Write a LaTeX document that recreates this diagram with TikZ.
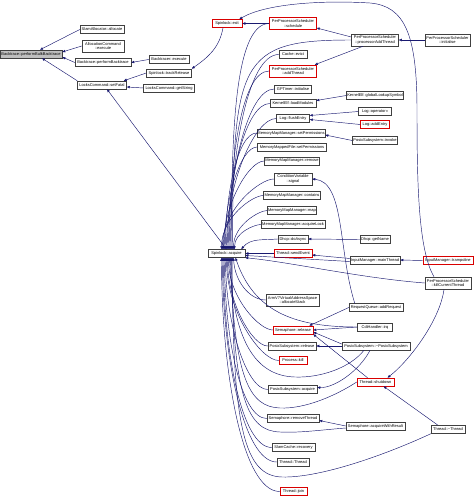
\documentclass[tikz,border=0pt]{standalone}
\usepackage{fontspec}
\setmainfont{Liberation Sans}
\usetikzlibrary{arrows.meta}
\definecolor{edgeblue}{HTML}{191970}
\definecolor{rootgray}{HTML}{BFBFBF}
\begin{document}
\begin{tikzpicture}[x=1bp,y=-1bp,
  box/.style={draw=black!75, line width=0.5bp, rectangle, inner sep=0.5bp, minimum height=8bp,
    font=\fontsize{4}{4.6}\selectfont, align=center, fill=white},
  box2/.style={box, minimum height=12bp},
  redbox/.style={draw=red!85!black},
  rootbox/.style={fill=rootgray},
  edge/.style={draw=edgeblue, line width=0.45bp, -{Triangle[length=3bp,width=2.4bp]}},
  upc/.style={edge, out=180, in=90, out looseness=0.4, in looseness=1.2},
  downc/.style={edge, out=180, in=-90, out looseness=0.4, in looseness=1.2},
]
\useasboundingbox (0,0) rectangle (474,497);

% ---- nodes ----
\node[box,rootbox,minimum width=62bp] (pbb) at (31,54) {Backtrace::performBulkBacktrace};
\node[box,minimum width=44bp] (slamalloc) at (102,29.5) {SlamAllocator::allocate};
\node[box2,minimum width=42bp] (alloccmd) at (103,46) {AllocationCommand\\::execute};
\node[box,minimum width=56bp] (perfbt) at (103,62.5) {Backtrace::performBacktrace};
\node[box,minimum width=49bp] (setfatal) at (102,85) {LocksCommand::setFatal};
\node[box,minimum width=40bp] (btexec) at (169,59.5) {Backtracer::execute};
\node[box,minimum width=45bp] (trackrel) at (169,73) {Spinlock::trackRelease};
\node[box,minimum width=51bp] (getstring) at (169,88) {LocksCommand::getString};
\node[box,redbox,minimum width=30bp] (exit) at (227,23.5) {Spinlock::exit};
\node[box,minimum width=37bp] (spin) at (226.5,253.5) {Spinlock::acquire};

\node[box2,redbox,minimum width=47bp] (schedule) at (293,23.5) {PerProcessorScheduler\\::schedule};
\node[box2,minimum width=47bp] (pat) at (375,40) {PerProcessorScheduler\\::processorAddThread};
\node[box2,minimum width=45bp] (init) at (447.5,40) {PerProcessorScheduler\\::initialise};
\node[box,minimum width=28bp] (cacheevict) at (293,54.5) {Cache::evict};
\node[box2,redbox,minimum width=47bp] (addthread) at (293,71) {PerProcessorScheduler\\::addThread};
\node[box,minimum width=37bp] (gptimer) at (293,89) {GPTimer::initialise};
\node[box,minimum width=46bp] (loadmod) at (293,103.5) {KernelElf::loadModules};
\node[box,minimum width=57bp] (globlookup) at (375,95.5) {KernelElf::globalLookupSymbol};
\node[box,minimum width=33bp] (flushentry) at (293,118.5) {Log::flushEntry};
\node[box,minimum width=33bp] (logop) at (375,111.5) {Log::operator\textless\textless};
\node[box,redbox,minimum width=29bp] (addentry) at (375,124.5) {Log::addEntry};
\node[box,minimum width=66bp] (mmmsetperm) at (291,133) {MemoryMapManager::setPermissions};
\node[box,minimum width=45bp] (psinvoke) at (375,140.5) {PosixSubsystem::invoke};
\node[box,minimum width=69bp] (mmfsetperm) at (292,147) {MemoryMappedFile::setPermissions};
\node[box,minimum width=55bp] (mmmremove) at (292,161) {MemoryMapManager::remove};
\node[box2,minimum width=38bp] (cvsignal) at (293,179) {ConditionVariable\\::signal};
\node[box,minimum width=57bp] (mmmcontains) at (292,195.5) {MemoryMapManager::contains};
\node[box,minimum width=49bp] (mmmmap) at (292,210.5) {MemoryMapManager::map};
\node[box,minimum width=64bp] (mmmlock) at (293,224.5) {MemoryMapManager::acquireLock};
\node[box,minimum width=30bp] (dhcpasync) at (293,239) {Dhcp::doAsync};
\node[box,minimum width=30bp] (dhcpname) at (375,239.5) {Dhcp::getName};
\node[box,redbox,minimum width=38bp] (sendevent) at (293,253.5) {Thread::sendEvent};
\node[box,minimum width=50bp] (immain) at (375,260) {InputManager::mainThread};
\node[box,redbox,minimum width=50bp] (imtramp) at (448,260.5) {InputManager::trampoline};
\node[box2,minimum width=46bp] (kct) at (448,283) {PerProcessorScheduler\\::killCurrentThread};
\node[box2,minimum width=53bp] (armv7) at (292.5,300) {ArmV7VirtualAddressSpace\\::allocateStack};
\node[box,minimum width=54bp] (rq) at (376,307.5) {RequestQueue::addRequest};
\node[box,minimum width=35bp] (cdiirq) at (375,327) {CdiHandler::irq};
\node[box,redbox,minimum width=40bp] (semrel) at (293,330) {Semaphore::release};
\node[box,minimum width=48bp] (psrelease) at (292,346) {PosixSubsystem::release};
\node[box,minimum width=68bp] (psdtor) at (376,346) {PosixSubsystem::\textasciitilde PosixSubsystem};
\node[box,redbox,minimum width=28bp] (prockill) at (293,360.5) {Process::kill};
\node[box,redbox,minimum width=37bp] (shutdown) at (375.5,382) {Thread::shutdown};
\node[box,minimum width=49bp] (psacquire) at (292.5,389.5) {PosixSubsystem::acquire};
\node[box,minimum width=52bp] (semremove) at (293,418.5) {Semaphore::removeThread};
\node[box,minimum width=59bp] (semacqres) at (375.5,426) {Semaphore::acquireWithResult};
\node[box,minimum width=34bp] (tdtor) at (448,429.5) {Thread::\textasciitilde Thread};
\node[box,minimum width=43bp] (slamrec) at (293.5,447.5) {SlamCache::recovery};
\node[box,minimum width=32bp] (tctor) at (293,462) {Thread::Thread};
\node[box,redbox,minimum width=27bp] (tjoin) at (293.5,491.5) {Thread::join};

% ---- left part ----
\draw[edge] (slamalloc.west) -- ([xshift=9bp]pbb.north);
\draw[edge] (alloccmd.west) -- ([yshift=2bp]pbb.east);
\draw[edge] (perfbt.west) -- ([yshift=-3bp]pbb.east);
\draw[edge] (setfatal.north west) -- ([xshift=11bp]pbb.south);
\draw[edge] (btexec.west) -- (perfbt.east);
\draw[edge] (trackrel.west) -- ([xshift=-3bp]setfatal.north east);
\draw[edge] (getstring.west) -- ([yshift=-2bp]setfatal.east);
\draw[edge] (spin.north) -- ([xshift=5bp]setfatal.south);
\draw[edge] ([xshift=-4bp]exit.south) to[out=-100,in=35] (trackrel.north east);

% ---- top ----
\draw[edge] (schedule.west) -- (exit.east);
\draw[edge] ([yshift=3bp]pat.west) -- ([yshift=-4.5bp]schedule.east);
\draw[edge] (init.west) -- (pat.east);
\draw[edge] ([xshift=-12bp]pat.south) -- ([xshift=-2bp]addthread.north east);
\draw[edge] ([xshift=-14bp]kct.north) .. controls (418,250) and (417,180) .. (417,110)
  .. controls (417,35) and (405,6) .. (370,3)
  .. controls (320,0) and (265,4) .. ([xshift=-3bp]exit.north east);

% ---- callers into Spinlock::acquire from above ----
\draw[edge] (pat.west) .. controls (240,40) and (233,60) .. ([xshift=6bp]spin.north);
\draw[upc] (schedule.west) to ([xshift=5bp]spin.north);
\draw[upc] (cacheevict.west) to ([xshift=4bp]spin.north);
\draw[upc] (addthread.west) to ([xshift=3bp]spin.north);
\draw[upc] (gptimer.west) to ([xshift=2bp]spin.north);
\draw[upc] (loadmod.west) to ([xshift=1bp]spin.north);
\draw[upc] (flushentry.west) to ([xshift=0bp]spin.north);
\draw[upc] (mmmsetperm.west) to ([xshift=-1bp]spin.north);
\draw[upc] (mmfsetperm.west) to ([xshift=-2bp]spin.north);
\draw[upc] (mmmremove.west) to ([xshift=-3bp]spin.north);
\draw[upc] (cvsignal.west) to ([xshift=-4bp]spin.north);
\draw[upc] (mmmcontains.west) to ([xshift=-5bp]spin.north);
\draw[upc] (mmmmap.west) to ([xshift=7bp]spin.north);
\draw[upc] (mmmlock.west) to ([xshift=8bp]spin.north);
\draw[edge] (dhcpasync.west) to[out=185,in=50] ([xshift=-4bp]spin.north east);
\draw[edge] (sendevent.west) -- (spin.east);
\draw[edge] ([yshift=-1.5bp]immain.west) -- ([yshift=-2bp]spin.east);
\draw[edge] (kct.west) .. controls (360,278) and (290,262) .. (spin.south east);

% ---- right-hand callers ----
\draw[edge] (globlookup.west) -- ([yshift=3bp]loadmod.east);
\draw[edge] (logop.west) -- ([yshift=3bp]flushentry.east);
\draw[edge] (addentry.west) -- ([yshift=-1bp]flushentry.east);
\draw[edge] (psinvoke.west) -- ([yshift=-2bp]mmmsetperm.east);
\draw[edge] (dhcpname.west) -- (dhcpasync.east);
\draw[edge] ([yshift=1.5bp]immain.west) -- ([yshift=-1.5bp]sendevent.east);
\draw[edge] (imtramp.west) -- (immain.east);
\draw[edge] ([xshift=6bp]rq.north west) .. controls (338,250) and (345,182) .. (cvsignal.east);
\draw[edge] (rq.west) -- ([xshift=-4bp]semrel.north east);
\draw[edge] (cdiirq.west) -- (semrel.east);
\draw[edge] ([yshift=2bp]psdtor.west) -- ([yshift=-2bp]semrel.east);
\draw[edge] (psdtor.west) -- (psrelease.east);
\draw[edge] ([xshift=-8bp]shutdown.north) -- (semrel.south east);
\draw[edge] ([xshift=-6bp]psdtor.south) .. controls (360,370) and (335,388) .. ([yshift=2bp]psacquire.east);
\draw[edge] ([xshift=-4bp]kct.south) .. controls (440,320) and (410,360) .. ([xshift=12bp]shutdown.north);
\draw[edge] ([xshift=-10bp]tdtor.north) -- ([xshift=8bp]shutdown.south);
\draw[edge] (semacqres.west) -- ([yshift=-2bp]semremove.east);

% ---- callers into Spinlock::acquire from below ----
\draw[edge] (cdiirq.west) .. controls (300,327) and (255,315) .. ([xshift=9bp]spin.south);
\draw[edge] (armv7.west) .. controls (250,300) and (235,282) .. ([xshift=7bp]spin.south);
\draw[downc] (semrel.west) to ([xshift=2bp]spin.south);
\draw[downc] (psrelease.west) to ([xshift=1bp]spin.south);
\draw[downc] (prockill.west) to ([xshift=0bp]spin.south);
\draw[downc] (psacquire.west) to ([xshift=-1bp]spin.south);
\draw[downc] (semremove.west) to ([xshift=-2bp]spin.south);
\draw[downc] (slamrec.west) to ([xshift=-3bp]spin.south);
\draw[downc] (tctor.west) to ([xshift=-4bp]spin.south);
\draw[downc] (tjoin.west) to ([xshift=-5bp]spin.south);
\draw[edge] ([xshift=-12bp]psdtor.south) .. controls (350,368) and (320,378) .. (295,377)
  .. controls (255,376) and (233,340) .. ([xshift=3bp]spin.south);
\draw[edge] (shutdown.west) .. controls (335,396) and (305,409) .. (280,408)
  .. controls (250,407) and (234,380) .. ([xshift=4bp]spin.south);
\draw[edge] ([yshift=-2bp]semacqres.west) .. controls (320,430) and (300,433) .. (280,432)
  .. controls (248,431) and (233,400) .. ([xshift=5bp]spin.south);
\draw[edge] (tdtor.south west) .. controls (385,455) and (320,478) .. (282,477)
  .. controls (245,476) and (232,430) .. ([xshift=6bp]spin.south);
\end{tikzpicture}
\end{document}
